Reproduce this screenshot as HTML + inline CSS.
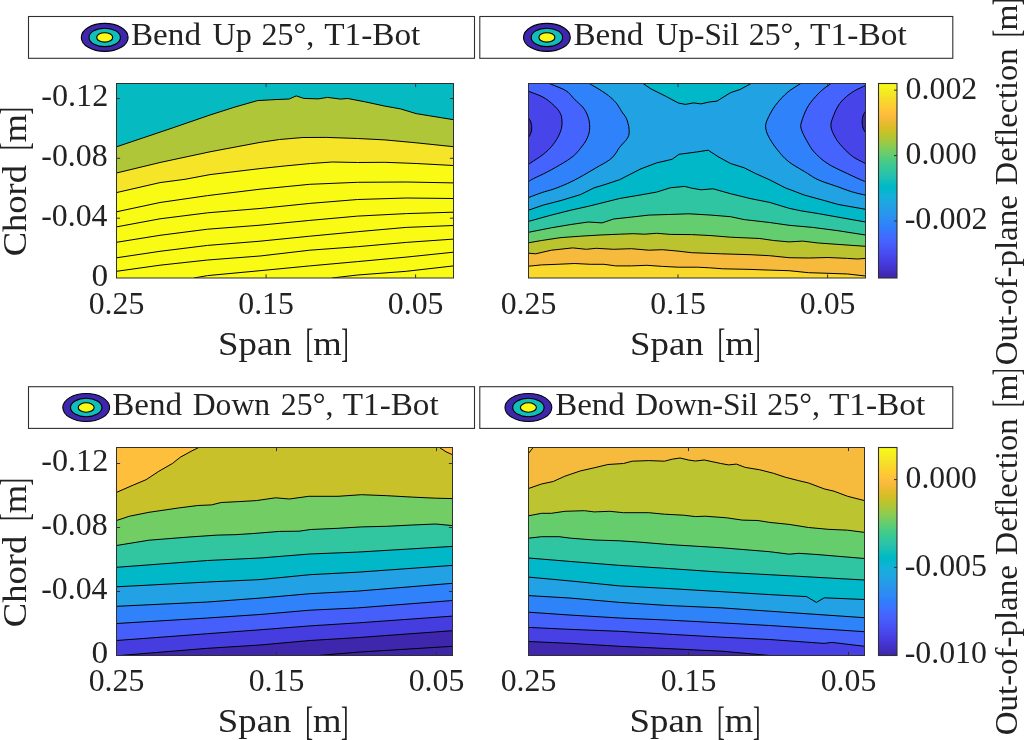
<!DOCTYPE html>
<html lang="en"><head><meta charset="utf-8"><title>Out-of-plane deflection contours</title>
<style>html,body{margin:0;padding:0;background:#fff;width:1025px;height:740px;overflow:hidden}</style>
</head><body>
<svg width="1025" height="740" viewBox="0 0 1025 740" style="display:block;position:absolute;left:0;top:0">
<defs>
<linearGradient id="pg" x1="0" y1="0" x2="0" y2="1"><stop offset="0.0000" stop-color="#f9fb15"/><stop offset="0.0159" stop-color="#f7f51b"/><stop offset="0.0317" stop-color="#f6ef20"/><stop offset="0.0476" stop-color="#f5e924"/><stop offset="0.0635" stop-color="#f5e327"/><stop offset="0.0794" stop-color="#f7dc2a"/><stop offset="0.0952" stop-color="#fad62d"/><stop offset="0.1111" stop-color="#fccf30"/><stop offset="0.1270" stop-color="#fec934"/><stop offset="0.1429" stop-color="#fec338"/><stop offset="0.1587" stop-color="#febe3c"/><stop offset="0.1746" stop-color="#f8ba3d"/><stop offset="0.1905" stop-color="#f0ba36"/><stop offset="0.2063" stop-color="#e6bb2d"/><stop offset="0.2222" stop-color="#dcbd29"/><stop offset="0.2381" stop-color="#d1bf27"/><stop offset="0.2540" stop-color="#c5c22a"/><stop offset="0.2698" stop-color="#b9c431"/><stop offset="0.2857" stop-color="#abc739"/><stop offset="0.3016" stop-color="#9dc943"/><stop offset="0.3175" stop-color="#8fcb4e"/><stop offset="0.3333" stop-color="#81cc59"/><stop offset="0.3492" stop-color="#72cd64"/><stop offset="0.3651" stop-color="#64cd6f"/><stop offset="0.3810" stop-color="#57cc7a"/><stop offset="0.3968" stop-color="#4acb84"/><stop offset="0.4127" stop-color="#3fca8e"/><stop offset="0.4286" stop-color="#37c897"/><stop offset="0.4444" stop-color="#31c69f"/><stop offset="0.4603" stop-color="#2cc4a7"/><stop offset="0.4762" stop-color="#24c1ae"/><stop offset="0.4921" stop-color="#19bfb6"/><stop offset="0.5079" stop-color="#0bbdbd"/><stop offset="0.5238" stop-color="#02bac3"/><stop offset="0.5397" stop-color="#01b8ca"/><stop offset="0.5556" stop-color="#08b5d0"/><stop offset="0.5714" stop-color="#12b1d6"/><stop offset="0.5873" stop-color="#18addb"/><stop offset="0.6032" stop-color="#1ca9df"/><stop offset="0.6190" stop-color="#20a5e3"/><stop offset="0.6349" stop-color="#23a0e5"/><stop offset="0.6508" stop-color="#259be8"/><stop offset="0.6667" stop-color="#2797eb"/><stop offset="0.6825" stop-color="#2b91ef"/><stop offset="0.6984" stop-color="#2d8cf3"/><stop offset="0.7143" stop-color="#2e87f7"/><stop offset="0.7302" stop-color="#2f81fa"/><stop offset="0.7460" stop-color="#327cfc"/><stop offset="0.7619" stop-color="#3875fe"/><stop offset="0.7778" stop-color="#3e6fff"/><stop offset="0.7937" stop-color="#4269fe"/><stop offset="0.8095" stop-color="#4563fd"/><stop offset="0.8254" stop-color="#465efb"/><stop offset="0.8413" stop-color="#4758f8"/><stop offset="0.8571" stop-color="#4852f4"/><stop offset="0.8730" stop-color="#484df0"/><stop offset="0.8889" stop-color="#4747eb"/><stop offset="0.9048" stop-color="#4741e5"/><stop offset="0.9206" stop-color="#463cde"/><stop offset="0.9365" stop-color="#4537d5"/><stop offset="0.9524" stop-color="#4332cb"/><stop offset="0.9683" stop-color="#422ec0"/><stop offset="0.9841" stop-color="#402ab4"/><stop offset="1.0000" stop-color="#3e26a8"/></linearGradient>
</defs>
<rect width="1025" height="740" fill="#fff"/>
<clipPath id="c1"><rect x="116.5" y="83.5" width="337.0" height="194.5"/></clipPath>
<g clip-path="url(#c1)">
<rect x="116.5" y="83.5" width="337.0" height="194.5" fill="#05bbc1"/>
<polygon points="116.5,146.8 170.0,128.8 210.0,115.0 235.0,107.0 257.5,100.6 275.0,99.6 289.3,99.0 296.2,95.9 303.8,98.4 318.0,98.9 327.5,97.4 340.5,99.1 347.8,98.5 365.4,101.9 384.9,106.1 400.5,108.9 416.1,113.6 453.5,119.7 455.5,119.7 455.5,280.0 114.5,280.0 114.5,146.8" fill="#aec637"/>
<polygon points="116.5,173.0 160.0,162.5 210.0,151.8 260.0,142.4 279.5,139.5 302.9,137.5 326.3,137.4 357.6,138.5 384.9,139.9 416.1,142.8 453.5,146.7 455.5,146.7 455.5,280.0 114.5,280.0 114.5,173.0" fill="#f5e427"/>
<polygon points="116.5,192.6 160.0,182.6 185.0,179.3 210.0,174.6 260.0,168.6 285.4,165.9 310.7,163.5 332.2,162.0 357.6,162.5 384.9,162.3 416.1,163.5 453.5,165.5 455.5,165.5 455.5,280.0 114.5,280.0 114.5,192.6" fill="#f9fb15"/>
<polygon points="116.5,211.8 160.0,202.5 207.6,195.6 260.0,189.2 309.8,184.3 357.6,182.3 406.3,182.0 453.5,182.9 455.5,182.9 455.5,280.0 114.5,280.0 114.5,211.8" fill="#f9fb15"/>
<polygon points="116.5,226.9 160.0,218.8 207.6,212.8 260.0,208.5 309.8,203.4 357.6,199.5 406.3,198.0 453.5,198.5 455.5,198.5 455.5,280.0 114.5,280.0 114.5,226.9" fill="#f9fb15"/>
<polygon points="116.5,242.3 160.0,235.3 207.6,229.2 260.0,225.2 309.8,220.4 357.6,216.1 406.3,213.6 453.5,212.2 455.5,212.2 455.5,280.0 114.5,280.0 114.5,242.3" fill="#f9fb15"/>
<polygon points="116.5,257.8 160.0,251.3 207.6,245.4 260.0,241.2 309.8,236.2 357.6,231.7 406.3,227.4 453.5,225.5 455.5,225.5 455.5,280.0 114.5,280.0 114.5,257.8" fill="#f9fb15"/>
<polygon points="116.5,271.3 160.0,265.2 207.6,260.0 260.0,256.0 309.8,250.2 357.6,246.7 406.3,242.4 453.5,239.1 455.5,239.1 455.5,280.0 114.5,280.0 114.5,271.3" fill="#f9fb15"/>
<polygon points="193.9,278.0 207.6,275.6 260.0,270.7 309.8,265.9 357.6,261.6 406.3,257.1 453.5,252.2 455.5,252.2 455.5,280.0 193.9,280.0" fill="#f9fb15"/>
<polygon points="332.0,278.0 357.6,275.0 406.3,271.3 453.5,265.9 455.5,265.9 455.5,280.0 332.0,280.0" fill="#f9fb15"/>
<polyline points="116.5,146.8 170.0,128.8 210.0,115.0 235.0,107.0 257.5,100.6 275.0,99.6 289.3,99.0 296.2,95.9 303.8,98.4 318.0,98.9 327.5,97.4 340.5,99.1 347.8,98.5 365.4,101.9 384.9,106.1 400.5,108.9 416.1,113.6 453.5,119.7" fill="none" stroke="#000" stroke-width="1.00" stroke-linejoin="round"/>
<polyline points="116.5,173.0 160.0,162.5 210.0,151.8 260.0,142.4 279.5,139.5 302.9,137.5 326.3,137.4 357.6,138.5 384.9,139.9 416.1,142.8 453.5,146.7" fill="none" stroke="#000" stroke-width="1.00" stroke-linejoin="round"/>
<polyline points="116.5,192.6 160.0,182.6 185.0,179.3 210.0,174.6 260.0,168.6 285.4,165.9 310.7,163.5 332.2,162.0 357.6,162.5 384.9,162.3 416.1,163.5 453.5,165.5" fill="none" stroke="#000" stroke-width="1.00" stroke-linejoin="round"/>
<polyline points="116.5,211.8 160.0,202.5 207.6,195.6 260.0,189.2 309.8,184.3 357.6,182.3 406.3,182.0 453.5,182.9" fill="none" stroke="#000" stroke-width="1.00" stroke-linejoin="round"/>
<polyline points="116.5,226.9 160.0,218.8 207.6,212.8 260.0,208.5 309.8,203.4 357.6,199.5 406.3,198.0 453.5,198.5" fill="none" stroke="#000" stroke-width="1.00" stroke-linejoin="round"/>
<polyline points="116.5,242.3 160.0,235.3 207.6,229.2 260.0,225.2 309.8,220.4 357.6,216.1 406.3,213.6 453.5,212.2" fill="none" stroke="#000" stroke-width="1.00" stroke-linejoin="round"/>
<polyline points="116.5,257.8 160.0,251.3 207.6,245.4 260.0,241.2 309.8,236.2 357.6,231.7 406.3,227.4 453.5,225.5" fill="none" stroke="#000" stroke-width="1.00" stroke-linejoin="round"/>
<polyline points="116.5,271.3 160.0,265.2 207.6,260.0 260.0,256.0 309.8,250.2 357.6,246.7 406.3,242.4 453.5,239.1" fill="none" stroke="#000" stroke-width="1.00" stroke-linejoin="round"/>
<polyline points="193.9,278.0 207.6,275.6 260.0,270.7 309.8,265.9 357.6,261.6 406.3,257.1 453.5,252.2" fill="none" stroke="#000" stroke-width="1.00" stroke-linejoin="round"/>
<polyline points="332.0,278.0 357.6,275.0 406.3,271.3 453.5,265.9" fill="none" stroke="#000" stroke-width="1.00" stroke-linejoin="round"/>
</g>
<path d="M266.1 278.0v-3.6M266.1 83.5v3.6M415.6 278.0v-3.6M415.6 83.5v3.6M116.5 98.5h3.6M453.5 98.5h-3.6M116.5 158.3h3.6M453.5 158.3h-3.6M116.5 218.2h3.6M453.5 218.2h-3.6" stroke="#303030" stroke-width="1" fill="none"/>
<rect x="116.5" y="83.5" width="337.0" height="194.5" fill="none" stroke="#303030" stroke-width="1"/>
<clipPath id="c3"><rect x="116.5" y="447.5" width="336.0" height="208.0"/></clipPath>
<g clip-path="url(#c3)">
<rect x="116.5" y="447.5" width="336.0" height="208.0" fill="#febf3c"/>
<polygon points="116.5,492.4 133.4,485.0 146.1,479.7 158.8,471.3 172.4,463.5 180.2,457.3 192.0,450.8 198.8,447.5 454.5,445.5 454.5,657.5 114.5,657.5 114.5,492.4" fill="#c9c129"/>
<polygon points="116.5,520.5 129.5,516.2 149.0,512.3 178.3,508.0 197.8,505.5 211.5,504.9 221.2,502.5 238.8,501.6 256.3,500.6 275.6,497.8 289.3,499.0 308.8,496.3 338.0,496.3 361.5,494.7 386.8,495.7 412.2,497.1 435.6,498.2 452.5,498.6 454.5,498.6 454.5,657.5 114.5,657.5 114.5,520.5" fill="#72cd64"/>
<polygon points="116.5,545.5 149.0,540.2 188.0,537.1 217.3,535.1 234.9,534.7 252.4,533.6 279.5,531.4 299.0,531.2 310.7,529.5 338.0,528.3 361.5,526.9 386.8,526.3 412.2,525.0 435.6,524.0 452.5,525.6 454.5,525.6 454.5,657.5 114.5,657.5 114.5,545.5" fill="#31c69f"/>
<polygon points="116.5,567.3 207.6,560.5 260.0,558.0 309.8,554.0 357.6,552.1 452.5,546.4 454.5,546.4 454.5,657.5 114.5,657.5 114.5,567.3" fill="#01b8c9"/>
<polygon points="116.5,586.8 207.6,582.0 260.0,579.6 309.8,574.7 357.6,572.2 452.5,565.4 454.5,565.4 454.5,657.5 114.5,657.5 114.5,586.8" fill="#22a2e4"/>
<polygon points="116.5,606.3 207.6,602.0 260.0,598.1 309.8,593.7 357.6,591.1 452.5,583.3 454.5,583.3 454.5,657.5 114.5,657.5 114.5,606.3" fill="#2f82f9"/>
<polygon points="116.5,623.5 207.6,618.0 260.0,614.5 309.8,610.2 357.6,607.9 452.5,600.5 454.5,600.5 454.5,657.5 114.5,657.5 114.5,623.5" fill="#465ffb"/>
<polygon points="116.5,640.5 207.6,633.7 260.0,629.8 309.8,625.9 357.6,622.9 452.5,616.1 454.5,616.1 454.5,657.5 114.5,657.5 114.5,640.5" fill="#463de0"/>
<polygon points="120.0,655.5 207.6,648.3 260.0,645.0 309.8,640.5 357.6,637.6 452.5,630.7 454.5,630.7 454.5,657.5 120.0,657.5" fill="#3e27ac"/>
<polygon points="318.5,655.5 357.6,652.2 452.5,646.3 454.5,646.3 454.5,657.5 318.5,657.5" fill="#3e26a8"/>
<polyline points="116.5,492.4 133.4,485.0 146.1,479.7 158.8,471.3 172.4,463.5 180.2,457.3 192.0,450.8 198.8,447.5" fill="none" stroke="#000" stroke-width="1.00" stroke-linejoin="round"/>
<polyline points="116.5,520.5 129.5,516.2 149.0,512.3 178.3,508.0 197.8,505.5 211.5,504.9 221.2,502.5 238.8,501.6 256.3,500.6 275.6,497.8 289.3,499.0 308.8,496.3 338.0,496.3 361.5,494.7 386.8,495.7 412.2,497.1 435.6,498.2 452.5,498.6" fill="none" stroke="#000" stroke-width="1.00" stroke-linejoin="round"/>
<polyline points="116.5,545.5 149.0,540.2 188.0,537.1 217.3,535.1 234.9,534.7 252.4,533.6 279.5,531.4 299.0,531.2 310.7,529.5 338.0,528.3 361.5,526.9 386.8,526.3 412.2,525.0 435.6,524.0 452.5,525.6" fill="none" stroke="#000" stroke-width="1.00" stroke-linejoin="round"/>
<polyline points="116.5,567.3 207.6,560.5 260.0,558.0 309.8,554.0 357.6,552.1 452.5,546.4" fill="none" stroke="#000" stroke-width="1.00" stroke-linejoin="round"/>
<polyline points="116.5,586.8 207.6,582.0 260.0,579.6 309.8,574.7 357.6,572.2 452.5,565.4" fill="none" stroke="#000" stroke-width="1.00" stroke-linejoin="round"/>
<polyline points="116.5,606.3 207.6,602.0 260.0,598.1 309.8,593.7 357.6,591.1 452.5,583.3" fill="none" stroke="#000" stroke-width="1.00" stroke-linejoin="round"/>
<polyline points="116.5,623.5 207.6,618.0 260.0,614.5 309.8,610.2 357.6,607.9 452.5,600.5" fill="none" stroke="#000" stroke-width="1.00" stroke-linejoin="round"/>
<polyline points="116.5,640.5 207.6,633.7 260.0,629.8 309.8,625.9 357.6,622.9 452.5,616.1" fill="none" stroke="#000" stroke-width="1.00" stroke-linejoin="round"/>
<polyline points="120.0,655.5 207.6,648.3 260.0,645.0 309.8,640.5 357.6,637.6 452.5,630.7" fill="none" stroke="#000" stroke-width="1.00" stroke-linejoin="round"/>
<polyline points="318.5,655.5 357.6,652.2 452.5,646.3" fill="none" stroke="#000" stroke-width="1.00" stroke-linejoin="round"/>
<polygon points="439.5,447.5 446.0,451.8 452.5,454.7 454.0,446.0" fill="#febf3c"/>
<polyline points="439.5,447.5 446.0,451.8 452.5,454.7" fill="none" stroke="#000" stroke-width="1.00"/>
</g>
<path d="M276.5 655.5v-3.6M276.5 447.5v3.6M436.5 655.5v-3.6M436.5 447.5v3.6M116.5 463.5h3.6M452.5 463.5h-3.6M116.5 527.5h3.6M452.5 527.5h-3.6M116.5 591.5h3.6M452.5 591.5h-3.6" stroke="#303030" stroke-width="1" fill="none"/>
<rect x="116.5" y="447.5" width="336.0" height="208.0" fill="none" stroke="#303030" stroke-width="1"/>
<clipPath id="c4"><rect x="528.5" y="447.5" width="336.0" height="208.0"/></clipPath>
<g clip-path="url(#c4)">
<rect x="528.5" y="447.5" width="336.0" height="208.0" fill="#f6ba3c"/>
<polygon points="528.5,488.5 541.5,484.0 553.2,481.5 564.9,476.2 580.5,470.9 594.2,467.8 607.9,464.5 623.5,463.5 632.2,461.2 648.8,460.6 664.4,461.2 672.2,459.2 680.0,458.0 688.8,460.1 695.5,461.0 704.3,460.0 720.8,463.5 728.6,464.9 736.4,464.1 745.2,467.4 759.8,469.8 773.5,473.3 785.2,477.2 798.8,480.7 808.6,483.0 824.2,488.9 834.0,491.2 847.6,496.3 864.5,500.6 866.5,500.6 866.5,657.5 526.5,657.5 526.5,488.5" fill="#bcc42f"/>
<polygon points="528.5,515.8 541.5,513.3 551.3,513.3 564.9,511.3 584.4,510.7 594.2,511.9 609.8,511.3 623.5,512.7 648.8,512.7 664.4,514.2 683.7,515.2 695.4,516.6 705.2,516.2 726.6,517.8 742.2,520.1 757.9,520.5 769.6,522.4 789.1,524.4 808.6,527.5 828.1,529.3 847.6,530.2 864.5,532.4 866.5,532.4 866.5,657.5 526.5,657.5 526.5,515.8" fill="#66cd6d"/>
<polygon points="528.5,538.2 541.5,536.7 559.1,536.7 570.8,538.2 594.2,540.0 619.6,540.8 639.1,542.1 668.3,544.5 721.8,547.8 769.6,551.7 789.1,554.2 798.8,553.3 818.0,554.6 864.5,558.5 866.5,558.5 866.5,657.5 526.5,657.5 526.5,538.2" fill="#2fc5a2"/>
<polygon points="528.5,558.0 570.8,561.5 619.6,565.4 668.3,568.5 721.8,572.2 769.6,574.7 864.5,580.0 866.5,580.0 866.5,657.5 526.5,657.5 526.5,558.0" fill="#01b8ca"/>
<polygon points="528.5,577.1 570.8,581.0 619.6,585.9 668.3,588.5 721.8,591.7 769.6,594.6 806.6,596.6 816.4,602.4 824.2,597.8 864.5,599.5 866.5,599.5 866.5,657.5 526.5,657.5 526.5,577.1" fill="#22a2e4"/>
<polygon points="528.5,595.6 570.8,598.1 619.6,602.4 668.3,605.5 721.8,607.9 769.6,611.2 864.5,617.7 866.5,617.7 866.5,657.5 526.5,657.5 526.5,595.6" fill="#2e83f9"/>
<polygon points="528.5,612.2 570.8,615.1 619.6,618.0 668.3,620.1 721.8,622.9 769.6,625.5 864.5,631.7 866.5,631.7 866.5,657.5 526.5,657.5 526.5,612.2" fill="#4561fc"/>
<polygon points="528.5,627.4 570.8,629.4 619.6,631.3 668.3,634.2 721.8,637.2 769.6,639.5 824.2,643.4 832.0,642.4 864.5,646.3 866.5,646.3 866.5,657.5 526.5,657.5 526.5,627.4" fill="#4740e4"/>
<polygon points="528.5,641.5 570.8,643.4 619.6,646.3 668.3,648.6 721.8,651.2 769.6,655.5 526.5,657.5 526.5,641.5" fill="#3f28ad"/>
<polyline points="528.5,488.5 541.5,484.0 553.2,481.5 564.9,476.2 580.5,470.9 594.2,467.8 607.9,464.5 623.5,463.5 632.2,461.2 648.8,460.6 664.4,461.2 672.2,459.2 680.0,458.0 688.8,460.1 695.5,461.0 704.3,460.0 720.8,463.5 728.6,464.9 736.4,464.1 745.2,467.4 759.8,469.8 773.5,473.3 785.2,477.2 798.8,480.7 808.6,483.0 824.2,488.9 834.0,491.2 847.6,496.3 864.5,500.6" fill="none" stroke="#000" stroke-width="1.00" stroke-linejoin="round"/>
<polyline points="528.5,515.8 541.5,513.3 551.3,513.3 564.9,511.3 584.4,510.7 594.2,511.9 609.8,511.3 623.5,512.7 648.8,512.7 664.4,514.2 683.7,515.2 695.4,516.6 705.2,516.2 726.6,517.8 742.2,520.1 757.9,520.5 769.6,522.4 789.1,524.4 808.6,527.5 828.1,529.3 847.6,530.2 864.5,532.4" fill="none" stroke="#000" stroke-width="1.00" stroke-linejoin="round"/>
<polyline points="528.5,538.2 541.5,536.7 559.1,536.7 570.8,538.2 594.2,540.0 619.6,540.8 639.1,542.1 668.3,544.5 721.8,547.8 769.6,551.7 789.1,554.2 798.8,553.3 818.0,554.6 864.5,558.5" fill="none" stroke="#000" stroke-width="1.00" stroke-linejoin="round"/>
<polyline points="528.5,558.0 570.8,561.5 619.6,565.4 668.3,568.5 721.8,572.2 769.6,574.7 864.5,580.0" fill="none" stroke="#000" stroke-width="1.00" stroke-linejoin="round"/>
<polyline points="528.5,577.1 570.8,581.0 619.6,585.9 668.3,588.5 721.8,591.7 769.6,594.6 806.6,596.6 816.4,602.4 824.2,597.8 864.5,599.5" fill="none" stroke="#000" stroke-width="1.00" stroke-linejoin="round"/>
<polyline points="528.5,595.6 570.8,598.1 619.6,602.4 668.3,605.5 721.8,607.9 769.6,611.2 864.5,617.7" fill="none" stroke="#000" stroke-width="1.00" stroke-linejoin="round"/>
<polyline points="528.5,612.2 570.8,615.1 619.6,618.0 668.3,620.1 721.8,622.9 769.6,625.5 864.5,631.7" fill="none" stroke="#000" stroke-width="1.00" stroke-linejoin="round"/>
<polyline points="528.5,627.4 570.8,629.4 619.6,631.3 668.3,634.2 721.8,637.2 769.6,639.5 824.2,643.4 832.0,642.4 864.5,646.3" fill="none" stroke="#000" stroke-width="1.00" stroke-linejoin="round"/>
<polyline points="528.5,641.5 570.8,643.4 619.6,646.3 668.3,648.6 721.8,651.2 769.6,655.5" fill="none" stroke="#000" stroke-width="1.00" stroke-linejoin="round"/>
<polygon points="528.5,453.5 533.1,447.5 527.0,446.0" fill="#f9d82c"/>
<polyline points="528.5,453.5 533.1,447.5" fill="none" stroke="#000" stroke-width="1.00"/>
</g>
<path d="M688.5 655.5v-3.6M688.5 447.5v3.6M848.5 655.5v-3.6M848.5 447.5v3.6" stroke="#303030" stroke-width="1" fill="none"/>
<rect x="528.5" y="447.5" width="336.0" height="208.0" fill="none" stroke="#303030" stroke-width="1"/>
<clipPath id="c2"><rect x="528.5" y="83.5" width="337.0" height="194.5"/></clipPath>
<g clip-path="url(#c2)">
<rect x="528.5" y="83.5" width="337.0" height="194.5" fill="#21a3e3"/>
<polygon points="643.0,83.5 650.8,88.8 666.4,96.6 678.4,103.0 685.3,104.4 693.6,102.9 700.9,103.9 709.2,102.0 717.0,101.1 730.5,92.7 740.3,89.4 751.0,83.5 751.0,81.5 643.0,81.5" fill="#01b8c9"/>
<polygon points="589.3,83.5 591.7,84.9 595.1,86.9 599.0,89.2 602.7,91.6 605.9,93.7 608.4,95.5 610.5,97.3 612.4,99.0 614.1,100.7 615.7,102.4 617.1,104.1 618.3,105.9 619.4,107.6 620.4,109.4 621.5,111.2 622.7,113.0 624.1,114.8 625.4,116.7 626.5,118.7 627.4,121.0 628.1,123.7 628.8,126.6 629.1,129.7 629.2,132.8 628.7,135.6 627.5,138.1 625.7,140.5 623.6,142.8 621.5,145.1 619.6,147.3 618.1,149.5 616.8,151.7 615.4,153.8 613.8,155.9 611.8,158.0 609.3,160.0 606.4,161.9 603.2,163.8 599.7,165.7 596.1,167.8 592.1,170.2 587.8,172.7 583.3,175.3 578.8,177.8 574.7,180.0 570.9,181.9 567.3,183.6 563.8,185.1 560.4,186.5 557.1,187.8 553.8,189.0 550.6,190.0 547.5,190.9 544.4,191.8 541.5,192.7 538.5,193.8 535.5,194.9 532.6,196.0 530.2,196.9 528.5,197.6 526.5,197.6 526.5,81.5 589.3,81.5" fill="#2f82f9"/>
<polygon points="549.3,83.5 551.7,84.5 555.1,85.8 559.0,87.4 562.8,89.0 565.9,90.7 568.1,92.3 569.9,94.1 571.5,95.8 573.0,97.7 574.7,99.5 576.7,101.3 578.7,103.2 580.8,105.1 582.8,107.1 584.4,109.3 585.8,111.6 587.0,114.1 588.0,116.7 588.8,119.4 589.3,122.0 589.6,124.7 589.7,127.4 589.5,130.2 589.0,132.9 588.3,135.6 587.2,138.2 585.8,140.9 584.1,143.5 582.3,146.0 580.5,148.3 578.8,150.4 577.2,152.3 575.5,154.1 573.4,156.0 570.8,158.0 567.5,160.3 563.6,162.7 559.4,165.2 555.2,167.6 551.3,169.8 547.5,171.8 543.5,173.8 539.8,175.6 536.4,177.2 533.7,178.5 531.8,179.5 530.5,180.3 529.6,180.9 529.0,181.3 528.5,181.6 526.5,181.6 526.5,81.5 549.3,81.5" fill="#4563fd"/>
<polygon points="526.5,91.3 528.5,91.3 530.8,92.2 534.2,93.4 538.1,94.9 542.0,96.6 545.4,98.5 548.5,100.7 551.6,103.3 554.6,106.0 557.1,108.7 559.1,111.2 560.4,113.5 561.3,115.7 561.7,117.8 561.9,119.9 562.0,122.0 562.0,124.1 561.8,126.2 561.4,128.4 560.8,130.5 560.0,132.7 559.0,135.0 557.8,137.4 556.4,139.8 554.8,142.2 553.2,144.4 551.5,146.5 549.8,148.4 547.9,150.3 545.8,152.2 543.5,154.1 540.6,156.3 537.2,158.6 533.7,160.9 530.6,162.9 528.5,164.3 526.5,164.3" fill="#4745e9"/>
<polygon points="526.5,118.0 528.5,118.0 528.8,118.5 529.3,119.2 529.9,120.1 530.4,121.0 530.8,122.0 531.1,123.1 531.4,124.2 531.6,125.4 531.7,126.6 531.8,127.8 531.7,128.9 531.6,130.0 531.4,131.0 531.1,132.0 530.8,133.0 530.4,134.0 529.9,135.1 529.3,136.1 528.8,137.0 528.5,137.6 526.5,137.6" fill="#402ab4"/>
<polygon points="800.8,83.5 798.9,84.7 796.2,86.3 793.1,88.3 789.9,90.5 787.1,92.7 784.6,95.0 782.1,97.5 779.7,100.1 777.5,102.7 775.4,105.4 773.5,108.1 771.7,111.0 770.1,113.9 768.7,116.6 767.6,119.0 766.7,121.0 766.1,122.8 765.8,124.4 765.6,126.0 765.7,127.8 766.0,129.8 766.6,131.8 767.3,133.9 768.4,136.1 769.6,138.5 771.2,141.1 773.1,144.0 775.1,146.9 777.3,149.7 779.3,152.2 781.2,154.4 782.9,156.4 784.8,158.3 786.8,160.1 789.1,162.0 791.9,164.0 795.0,166.0 798.3,167.9 801.6,169.9 804.7,171.7 807.5,173.4 810.0,175.1 812.5,176.7 815.2,178.3 818.3,179.8 821.9,181.3 826.0,182.8 830.2,184.2 834.3,185.6 837.9,186.8 841.0,187.9 843.8,189.0 846.3,189.9 848.9,190.8 851.5,191.7 854.5,192.5 857.7,193.4 860.9,194.1 863.6,194.7 865.5,195.2 867.5,195.2 867.5,81.5 800.8,81.5" fill="#2f82f9"/>
<polygon points="831.0,83.5 829.6,84.5 827.5,85.9 825.2,87.6 822.7,89.6 820.3,91.7 817.9,94.1 815.5,96.7 813.0,99.5 810.6,102.5 808.6,105.4 806.8,108.5 805.2,111.9 803.8,115.2 802.7,118.3 801.8,121.0 801.2,123.0 800.8,124.5 800.7,125.8 800.8,127.1 801.2,128.8 801.9,130.9 802.8,133.2 804.0,135.6 805.3,138.1 806.6,140.5 807.9,142.8 809.3,145.2 810.7,147.5 812.4,149.9 814.4,152.2 816.7,154.6 819.2,157.0 821.9,159.4 824.9,161.7 828.1,163.9 831.7,166.0 835.8,168.1 839.9,170.1 844.0,172.0 847.6,173.7 850.9,175.3 854.0,176.7 856.8,178.0 859.3,179.1 861.3,180.0 862.8,180.6 863.9,181.1 864.6,181.3 865.1,181.5 865.5,181.6 867.5,181.6 867.5,81.5 831.0,81.5" fill="#4563fd"/>
<polygon points="867.5,85.5 865.5,85.5 863.6,86.4 860.8,87.7 857.6,89.2 854.4,90.9 851.5,92.7 848.9,94.6 846.4,96.6 844.0,98.7 841.8,101.0 839.8,103.4 838.0,106.0 836.5,108.9 835.1,111.8 834.0,114.6 833.0,117.1 832.2,119.3 831.5,121.2 831.1,123.0 830.9,124.8 831.0,126.8 831.5,129.0 832.3,131.4 833.4,133.9 834.6,136.2 835.9,138.5 837.2,140.6 838.7,142.6 840.3,144.5 842.0,146.4 843.7,148.3 845.5,150.2 847.4,152.0 849.3,153.8 851.4,155.5 853.5,157.1 856.0,158.6 858.7,160.1 861.5,161.5 863.8,162.7 865.5,163.5 867.5,163.5" fill="#4745e9"/>
<polygon points="867.5,111.2 865.5,111.2 865.1,111.8 864.6,112.7 864.0,113.8 863.4,114.9 863.0,116.0 862.7,117.1 862.5,118.3 862.3,119.5 862.2,120.8 862.2,122.0 862.2,123.2 862.3,124.5 862.5,125.7 862.7,126.9 863.0,128.0 863.4,129.1 864.0,130.2 864.6,131.2 865.1,132.1 865.5,132.7 867.5,132.7" fill="#402ab4"/>
<polygon points="528.5,210.2 543.5,205.0 561.0,200.5 580.5,194.6 594.2,187.8 604.0,184.9 619.6,179.7 641.0,168.8 656.6,162.9 672.1,159.3 679.0,154.3 696.5,152.0 708.2,150.2 718.8,157.1 730.5,163.5 744.2,167.8 755.9,173.7 769.6,179.8 785.2,187.8 804.7,195.2 824.2,200.5 837.9,204.4 865.5,209.3 867.5,209.3 867.5,280.0 526.5,280.0 526.5,210.2" fill="#01b8c9"/>
<polygon points="528.5,221.4 551.3,215.1 570.8,210.2 588.3,206.3 600.0,203.4 619.6,198.5 639.1,195.2 656.6,192.1 670.3,187.8 684.5,186.4 691.8,188.2 701.0,189.8 713.0,188.8 730.5,193.7 750.0,198.5 769.6,202.4 789.1,208.3 800.8,210.8 818.3,213.6 837.9,217.1 865.5,222.0 867.5,222.0 867.5,280.0 526.5,280.0 526.5,221.4" fill="#2fc5a3"/>
<polygon points="528.5,232.3 551.3,227.8 570.8,224.5 588.3,222.0 602.0,222.9 613.7,219.0 631.3,217.1 648.8,215.1 668.3,214.5 689.0,213.8 711.0,215.1 730.5,216.7 744.2,219.6 769.6,222.5 789.1,225.3 812.5,227.4 837.9,230.7 865.5,235.0 867.5,235.0 867.5,280.0 526.5,280.0 526.5,232.3" fill="#64cd6f"/>
<polygon points="528.5,242.8 541.5,240.5 561.0,237.6 580.5,236.2 600.0,235.0 619.6,234.2 633.2,233.7 644.9,234.2 656.6,233.3 670.3,234.4 691.6,234.6 711.0,235.6 730.5,237.2 759.8,238.5 773.5,240.5 789.1,241.9 802.7,241.1 818.3,243.0 837.9,244.4 865.5,246.3 867.5,246.3 867.5,280.0 526.5,280.0 526.5,242.8" fill="#bbc42f"/>
<polygon points="528.5,253.2 535.7,253.8 551.3,250.2 572.7,247.9 586.4,249.3 596.1,248.3 613.7,249.3 631.3,248.7 648.8,250.2 662.5,249.7 678.0,251.1 691.6,252.7 720.8,253.8 750.0,254.7 769.6,255.7 789.1,257.7 808.6,258.0 828.1,257.5 847.6,258.4 857.4,259.0 865.5,258.4 867.5,258.4 867.5,280.0 526.5,280.0 526.5,253.2" fill="#f6ba3c"/>
<polygon points="528.5,266.2 541.5,264.9 557.1,264.3 574.7,263.5 590.3,264.3 604.0,264.3 615.7,265.9 631.3,265.9 646.9,265.3 662.5,266.4 678.1,267.2 697.6,267.2 709.3,267.8 722.7,268.8 750.0,269.4 769.6,270.1 789.1,270.7 808.6,272.7 828.1,273.3 847.6,274.0 865.5,276.0 867.5,276.0 867.5,280.0 526.5,280.0 526.5,266.2" fill="#f9d82c"/>
<polyline points="528.5,118.0 528.8,118.5 529.3,119.2 529.9,120.1 530.4,121.0 530.8,122.0 531.1,123.1 531.4,124.2 531.6,125.4 531.7,126.6 531.8,127.8 531.7,128.9 531.6,130.0 531.4,131.0 531.1,132.0 530.8,133.0 530.4,134.0 529.9,135.1 529.3,136.1 528.8,137.0 528.5,137.6" fill="none" stroke="#000" stroke-width="1.00" stroke-linejoin="round"/>
<polyline points="528.5,91.3 530.8,92.2 534.2,93.4 538.1,94.9 542.0,96.6 545.4,98.5 548.5,100.7 551.6,103.3 554.6,106.0 557.1,108.7 559.1,111.2 560.4,113.5 561.3,115.7 561.7,117.8 561.9,119.9 562.0,122.0 562.0,124.1 561.8,126.2 561.4,128.4 560.8,130.5 560.0,132.7 559.0,135.0 557.8,137.4 556.4,139.8 554.8,142.2 553.2,144.4 551.5,146.5 549.8,148.4 547.9,150.3 545.8,152.2 543.5,154.1 540.6,156.3 537.2,158.6 533.7,160.9 530.6,162.9 528.5,164.3" fill="none" stroke="#000" stroke-width="1.00" stroke-linejoin="round"/>
<polyline points="549.3,83.5 551.7,84.5 555.1,85.8 559.0,87.4 562.8,89.0 565.9,90.7 568.1,92.3 569.9,94.1 571.5,95.8 573.0,97.7 574.7,99.5 576.7,101.3 578.7,103.2 580.8,105.1 582.8,107.1 584.4,109.3 585.8,111.6 587.0,114.1 588.0,116.7 588.8,119.4 589.3,122.0 589.6,124.7 589.7,127.4 589.5,130.2 589.0,132.9 588.3,135.6 587.2,138.2 585.8,140.9 584.1,143.5 582.3,146.0 580.5,148.3 578.8,150.4 577.2,152.3 575.5,154.1 573.4,156.0 570.8,158.0 567.5,160.3 563.6,162.7 559.4,165.2 555.2,167.6 551.3,169.8 547.5,171.8 543.5,173.8 539.8,175.6 536.4,177.2 533.7,178.5 531.8,179.5 530.5,180.3 529.6,180.9 529.0,181.3 528.5,181.6" fill="none" stroke="#000" stroke-width="1.00" stroke-linejoin="round"/>
<polyline points="589.3,83.5 591.7,84.9 595.1,86.9 599.0,89.2 602.7,91.6 605.9,93.7 608.4,95.5 610.5,97.3 612.4,99.0 614.1,100.7 615.7,102.4 617.1,104.1 618.3,105.9 619.4,107.6 620.4,109.4 621.5,111.2 622.7,113.0 624.1,114.8 625.4,116.7 626.5,118.7 627.4,121.0 628.1,123.7 628.8,126.6 629.1,129.7 629.2,132.8 628.7,135.6 627.5,138.1 625.7,140.5 623.6,142.8 621.5,145.1 619.6,147.3 618.1,149.5 616.8,151.7 615.4,153.8 613.8,155.9 611.8,158.0 609.3,160.0 606.4,161.9 603.2,163.8 599.7,165.7 596.1,167.8 592.1,170.2 587.8,172.7 583.3,175.3 578.8,177.8 574.7,180.0 570.9,181.9 567.3,183.6 563.8,185.1 560.4,186.5 557.1,187.8 553.8,189.0 550.6,190.0 547.5,190.9 544.4,191.8 541.5,192.7 538.5,193.8 535.5,194.9 532.6,196.0 530.2,196.9 528.5,197.6" fill="none" stroke="#000" stroke-width="1.00" stroke-linejoin="round"/>
<polyline points="643.0,83.5 650.8,88.8 666.4,96.6 678.4,103.0 685.3,104.4 693.6,102.9 700.9,103.9 709.2,102.0 717.0,101.1 730.5,92.7 740.3,89.4 751.0,83.5" fill="none" stroke="#000" stroke-width="1.00" stroke-linejoin="round"/>
<polyline points="528.5,210.2 543.5,205.0 561.0,200.5 580.5,194.6 594.2,187.8 604.0,184.9 619.6,179.7 641.0,168.8 656.6,162.9 672.1,159.3 679.0,154.3 696.5,152.0 708.2,150.2 718.8,157.1 730.5,163.5 744.2,167.8 755.9,173.7 769.6,179.8 785.2,187.8 804.7,195.2 824.2,200.5 837.9,204.4 865.5,209.3" fill="none" stroke="#000" stroke-width="1.00" stroke-linejoin="round"/>
<polyline points="800.8,83.5 798.9,84.7 796.2,86.3 793.1,88.3 789.9,90.5 787.1,92.7 784.6,95.0 782.1,97.5 779.7,100.1 777.5,102.7 775.4,105.4 773.5,108.1 771.7,111.0 770.1,113.9 768.7,116.6 767.6,119.0 766.7,121.0 766.1,122.8 765.8,124.4 765.6,126.0 765.7,127.8 766.0,129.8 766.6,131.8 767.3,133.9 768.4,136.1 769.6,138.5 771.2,141.1 773.1,144.0 775.1,146.9 777.3,149.7 779.3,152.2 781.2,154.4 782.9,156.4 784.8,158.3 786.8,160.1 789.1,162.0 791.9,164.0 795.0,166.0 798.3,167.9 801.6,169.9 804.7,171.7 807.5,173.4 810.0,175.1 812.5,176.7 815.2,178.3 818.3,179.8 821.9,181.3 826.0,182.8 830.2,184.2 834.3,185.6 837.9,186.8 841.0,187.9 843.8,189.0 846.3,189.9 848.9,190.8 851.5,191.7 854.5,192.5 857.7,193.4 860.9,194.1 863.6,194.7 865.5,195.2" fill="none" stroke="#000" stroke-width="1.00" stroke-linejoin="round"/>
<polyline points="831.0,83.5 829.6,84.5 827.5,85.9 825.2,87.6 822.7,89.6 820.3,91.7 817.9,94.1 815.5,96.7 813.0,99.5 810.6,102.5 808.6,105.4 806.8,108.5 805.2,111.9 803.8,115.2 802.7,118.3 801.8,121.0 801.2,123.0 800.8,124.5 800.7,125.8 800.8,127.1 801.2,128.8 801.9,130.9 802.8,133.2 804.0,135.6 805.3,138.1 806.6,140.5 807.9,142.8 809.3,145.2 810.7,147.5 812.4,149.9 814.4,152.2 816.7,154.6 819.2,157.0 821.9,159.4 824.9,161.7 828.1,163.9 831.7,166.0 835.8,168.1 839.9,170.1 844.0,172.0 847.6,173.7 850.9,175.3 854.0,176.7 856.8,178.0 859.3,179.1 861.3,180.0 862.8,180.6 863.9,181.1 864.6,181.3 865.1,181.5 865.5,181.6" fill="none" stroke="#000" stroke-width="1.00" stroke-linejoin="round"/>
<polyline points="865.5,85.5 863.6,86.4 860.8,87.7 857.6,89.2 854.4,90.9 851.5,92.7 848.9,94.6 846.4,96.6 844.0,98.7 841.8,101.0 839.8,103.4 838.0,106.0 836.5,108.9 835.1,111.8 834.0,114.6 833.0,117.1 832.2,119.3 831.5,121.2 831.1,123.0 830.9,124.8 831.0,126.8 831.5,129.0 832.3,131.4 833.4,133.9 834.6,136.2 835.9,138.5 837.2,140.6 838.7,142.6 840.3,144.5 842.0,146.4 843.7,148.3 845.5,150.2 847.4,152.0 849.3,153.8 851.4,155.5 853.5,157.1 856.0,158.6 858.7,160.1 861.5,161.5 863.8,162.7 865.5,163.5" fill="none" stroke="#000" stroke-width="1.00" stroke-linejoin="round"/>
<polyline points="865.5,111.2 865.1,111.8 864.6,112.7 864.0,113.8 863.4,114.9 863.0,116.0 862.7,117.1 862.5,118.3 862.3,119.5 862.2,120.8 862.2,122.0 862.2,123.2 862.3,124.5 862.5,125.7 862.7,126.9 863.0,128.0 863.4,129.1 864.0,130.2 864.6,131.2 865.1,132.1 865.5,132.7" fill="none" stroke="#000" stroke-width="1.00" stroke-linejoin="round"/>
<polyline points="528.5,221.4 551.3,215.1 570.8,210.2 588.3,206.3 600.0,203.4 619.6,198.5 639.1,195.2 656.6,192.1 670.3,187.8 684.5,186.4 691.8,188.2 701.0,189.8 713.0,188.8 730.5,193.7 750.0,198.5 769.6,202.4 789.1,208.3 800.8,210.8 818.3,213.6 837.9,217.1 865.5,222.0" fill="none" stroke="#000" stroke-width="1.00" stroke-linejoin="round"/>
<polyline points="528.5,232.3 551.3,227.8 570.8,224.5 588.3,222.0 602.0,222.9 613.7,219.0 631.3,217.1 648.8,215.1 668.3,214.5 689.0,213.8 711.0,215.1 730.5,216.7 744.2,219.6 769.6,222.5 789.1,225.3 812.5,227.4 837.9,230.7 865.5,235.0" fill="none" stroke="#000" stroke-width="1.00" stroke-linejoin="round"/>
<polyline points="528.5,242.8 541.5,240.5 561.0,237.6 580.5,236.2 600.0,235.0 619.6,234.2 633.2,233.7 644.9,234.2 656.6,233.3 670.3,234.4 691.6,234.6 711.0,235.6 730.5,237.2 759.8,238.5 773.5,240.5 789.1,241.9 802.7,241.1 818.3,243.0 837.9,244.4 865.5,246.3" fill="none" stroke="#000" stroke-width="1.00" stroke-linejoin="round"/>
<polyline points="528.5,253.2 535.7,253.8 551.3,250.2 572.7,247.9 586.4,249.3 596.1,248.3 613.7,249.3 631.3,248.7 648.8,250.2 662.5,249.7 678.0,251.1 691.6,252.7 720.8,253.8 750.0,254.7 769.6,255.7 789.1,257.7 808.6,258.0 828.1,257.5 847.6,258.4 857.4,259.0 865.5,258.4" fill="none" stroke="#000" stroke-width="1.00" stroke-linejoin="round"/>
<polyline points="528.5,266.2 541.5,264.9 557.1,264.3 574.7,263.5 590.3,264.3 604.0,264.3 615.7,265.9 631.3,265.9 646.9,265.3 662.5,266.4 678.1,267.2 697.6,267.2 709.3,267.8 722.7,268.8 750.0,269.4 769.6,270.1 789.1,270.7 808.6,272.7 828.1,273.3 847.6,274.0 865.5,276.0" fill="none" stroke="#000" stroke-width="1.00" stroke-linejoin="round"/>
</g>
<path d="M678.0 278.0v-3.6M678.0 83.5v3.6M827.6 278.0v-3.6M827.6 83.5v3.6" stroke="#303030" stroke-width="1" fill="none"/>
<rect x="528.5" y="83.5" width="337.0" height="194.5" fill="none" stroke="#303030" stroke-width="1"/>
<rect x="878.5" y="83.5" width="18.5" height="194.5" fill="url(#pg)"/>
<path d="M897.0 90.2h-3.0M897.0 155.6h-3.0M897.0 221.0h-3.0" stroke="#303030" stroke-width="1" fill="none"/>
<rect x="878.5" y="83.5" width="18.5" height="194.5" fill="none" stroke="#303030" stroke-width="1.1"/>
<rect x="878.5" y="447.5" width="18.5" height="208.0" fill="url(#pg)"/>
<path d="M897.0 479.6h-3.0M897.0 567.4h-3.0M897.0 655.0h-3.0" stroke="#303030" stroke-width="1" fill="none"/>
<rect x="878.5" y="447.5" width="18.5" height="208.0" fill="none" stroke="#303030" stroke-width="1.1"/>
<rect x="28.5" y="16.5" width="446.0" height="41.8" fill="#fff" stroke="#303030" stroke-width="1.1"/>
<g transform="translate(104.7,37.4)"><ellipse cx="0" cy="0" rx="23.4" ry="14" fill="#3e27ac" stroke="#000" stroke-width="1.1"/><ellipse cx="0" cy="0" rx="15.7" ry="9.2" fill="#12beb9" stroke="#000" stroke-width="1.1"/><ellipse cx="0" cy="0" rx="8" ry="4.7" fill="#f9fb15" stroke="#000" stroke-width="1.1"/></g>
<rect x="479.8" y="16.5" width="473.0" height="41.8" fill="#fff" stroke="#303030" stroke-width="1.1"/>
<g transform="translate(546.9,37.4)"><ellipse cx="0" cy="0" rx="23.4" ry="14" fill="#3e27ac" stroke="#000" stroke-width="1.1"/><ellipse cx="0" cy="0" rx="15.7" ry="9.2" fill="#12beb9" stroke="#000" stroke-width="1.1"/><ellipse cx="0" cy="0" rx="8" ry="4.7" fill="#f9fb15" stroke="#000" stroke-width="1.1"/></g>
<rect x="28.5" y="386.7" width="446.0" height="41.7" fill="#fff" stroke="#303030" stroke-width="1.1"/>
<g transform="translate(86.2,407.5)"><ellipse cx="0" cy="0" rx="23.4" ry="14" fill="#3e27ac" stroke="#000" stroke-width="1.1"/><ellipse cx="0" cy="0" rx="15.7" ry="9.2" fill="#12beb9" stroke="#000" stroke-width="1.1"/><ellipse cx="0" cy="0" rx="8" ry="4.7" fill="#f9fb15" stroke="#000" stroke-width="1.1"/></g>
<rect x="479.8" y="386.7" width="473.0" height="41.7" fill="#fff" stroke="#303030" stroke-width="1.1"/>
<g transform="translate(528.4,407.5)"><ellipse cx="0" cy="0" rx="23.4" ry="14" fill="#3e27ac" stroke="#000" stroke-width="1.1"/><ellipse cx="0" cy="0" rx="15.7" ry="9.2" fill="#12beb9" stroke="#000" stroke-width="1.1"/><ellipse cx="0" cy="0" rx="8" ry="4.7" fill="#f9fb15" stroke="#000" stroke-width="1.1"/></g>
<g font-family="'Liberation Serif', 'DejaVu Serif', serif" fill="#222">
<text x="131.01" y="44.80" font-size="31.0" textLength="69.95" lengthAdjust="spacingAndGlyphs">Bend</text>
<text x="212.56" y="44.80" font-size="31.0" textLength="39.34" lengthAdjust="spacingAndGlyphs">Up</text>
<text x="261.46" y="44.80" font-size="31.0" textLength="52.71" lengthAdjust="spacingAndGlyphs">25°,</text>
<text x="324.23" y="44.80" font-size="31.0" textLength="96.09" lengthAdjust="spacingAndGlyphs">T1-Bot</text>
<text x="573.41" y="44.80" font-size="31.0" textLength="69.95" lengthAdjust="spacingAndGlyphs">Bend</text>
<text x="655.88" y="44.80" font-size="31.0" textLength="83.21" lengthAdjust="spacingAndGlyphs">Up-Sil</text>
<text x="748.66" y="44.80" font-size="31.0" textLength="52.71" lengthAdjust="spacingAndGlyphs">25°,</text>
<text x="810.13" y="44.80" font-size="31.0" textLength="96.59" lengthAdjust="spacingAndGlyphs">T1-Bot</text>
<text x="112.21" y="415.10" font-size="31.0" textLength="69.85" lengthAdjust="spacingAndGlyphs">Bend</text>
<text x="192.75" y="415.10" font-size="31.0" textLength="77.30" lengthAdjust="spacingAndGlyphs">Down</text>
<text x="280.87" y="415.10" font-size="31.0" textLength="52.50" lengthAdjust="spacingAndGlyphs">25°,</text>
<text x="342.74" y="415.10" font-size="31.0" textLength="95.99" lengthAdjust="spacingAndGlyphs">T1-Bot</text>
<text x="555.21" y="415.10" font-size="31.0" textLength="69.65" lengthAdjust="spacingAndGlyphs">Bend</text>
<text x="635.35" y="415.10" font-size="31.0" textLength="122.65" lengthAdjust="spacingAndGlyphs">Down-Sil</text>
<text x="767.26" y="415.10" font-size="31.0" textLength="52.71" lengthAdjust="spacingAndGlyphs">25°,</text>
<text x="828.93" y="415.10" font-size="31.0" textLength="96.39" lengthAdjust="spacingAndGlyphs">T1-Bot</text>
<text x="41.27" y="106.00" font-size="31.0" textLength="66.99" lengthAdjust="spacingAndGlyphs">-0.12</text>
<text x="41.29" y="165.80" font-size="31.0" textLength="66.33" lengthAdjust="spacingAndGlyphs">-0.08</text>
<text x="41.29" y="225.70" font-size="31.0" textLength="66.19" lengthAdjust="spacingAndGlyphs">-0.04</text>
<text x="91.57" y="285.50" font-size="31.0" textLength="16.67" lengthAdjust="spacingAndGlyphs">0</text>
<text x="41.27" y="471.00" font-size="31.0" textLength="66.99" lengthAdjust="spacingAndGlyphs">-0.12</text>
<text x="41.29" y="535.00" font-size="31.0" textLength="66.33" lengthAdjust="spacingAndGlyphs">-0.08</text>
<text x="41.29" y="599.00" font-size="31.0" textLength="66.19" lengthAdjust="spacingAndGlyphs">-0.04</text>
<text x="91.57" y="663.00" font-size="31.0" textLength="16.67" lengthAdjust="spacingAndGlyphs">0</text>
<text x="88.73" y="313.60" font-size="31.0" textLength="55.64" lengthAdjust="spacingAndGlyphs">0.25</text>
<text x="238.28" y="313.60" font-size="31.0" textLength="55.64" lengthAdjust="spacingAndGlyphs">0.15</text>
<text x="387.83" y="313.60" font-size="31.0" textLength="55.64" lengthAdjust="spacingAndGlyphs">0.05</text>
<text x="500.73" y="313.60" font-size="31.0" textLength="55.64" lengthAdjust="spacingAndGlyphs">0.25</text>
<text x="650.28" y="313.60" font-size="31.0" textLength="55.64" lengthAdjust="spacingAndGlyphs">0.15</text>
<text x="799.83" y="313.60" font-size="31.0" textLength="55.64" lengthAdjust="spacingAndGlyphs">0.05</text>
<text x="88.73" y="690.50" font-size="31.0" textLength="55.64" lengthAdjust="spacingAndGlyphs">0.25</text>
<text x="248.73" y="690.50" font-size="31.0" textLength="55.64" lengthAdjust="spacingAndGlyphs">0.15</text>
<text x="408.73" y="690.50" font-size="31.0" textLength="55.64" lengthAdjust="spacingAndGlyphs">0.05</text>
<text x="500.73" y="690.50" font-size="31.0" textLength="55.64" lengthAdjust="spacingAndGlyphs">0.25</text>
<text x="660.73" y="690.50" font-size="31.0" textLength="55.64" lengthAdjust="spacingAndGlyphs">0.15</text>
<text x="820.73" y="690.50" font-size="31.0" textLength="55.64" lengthAdjust="spacingAndGlyphs">0.05</text>
<text x="218.01" y="354.60" font-size="34.0" textLength="73.65" lengthAdjust="spacingAndGlyphs">Span</text>
<text x="305.49" y="357.40" font-size="40.7" textLength="7.80" lengthAdjust="spacingAndGlyphs">[</text>
<text x="313.17" y="354.60" font-size="34.0" textLength="28.49" lengthAdjust="spacingAndGlyphs">m</text>
<text x="341.32" y="357.40" font-size="40.7" textLength="7.40" lengthAdjust="spacingAndGlyphs">]</text>
<text x="630.01" y="354.60" font-size="34.0" textLength="73.65" lengthAdjust="spacingAndGlyphs">Span</text>
<text x="717.49" y="357.40" font-size="40.7" textLength="7.80" lengthAdjust="spacingAndGlyphs">[</text>
<text x="725.17" y="354.60" font-size="34.0" textLength="28.49" lengthAdjust="spacingAndGlyphs">m</text>
<text x="753.32" y="357.40" font-size="40.7" textLength="7.40" lengthAdjust="spacingAndGlyphs">]</text>
<text x="217.81" y="731.80" font-size="34.0" textLength="73.65" lengthAdjust="spacingAndGlyphs">Span</text>
<text x="305.29" y="734.60" font-size="40.7" textLength="7.80" lengthAdjust="spacingAndGlyphs">[</text>
<text x="312.97" y="731.80" font-size="34.0" textLength="28.49" lengthAdjust="spacingAndGlyphs">m</text>
<text x="341.12" y="734.60" font-size="40.7" textLength="7.40" lengthAdjust="spacingAndGlyphs">]</text>
<text x="629.61" y="731.80" font-size="34.0" textLength="73.65" lengthAdjust="spacingAndGlyphs">Span</text>
<text x="717.09" y="734.60" font-size="40.7" textLength="7.80" lengthAdjust="spacingAndGlyphs">[</text>
<text x="724.77" y="731.80" font-size="34.0" textLength="28.49" lengthAdjust="spacingAndGlyphs">m</text>
<text x="752.92" y="734.60" font-size="40.7" textLength="7.40" lengthAdjust="spacingAndGlyphs">]</text>
<g transform="translate(25.6,254.9) rotate(-90)">
<text x="-1.46" y="0.00" font-size="34.0" textLength="91.43" lengthAdjust="spacingAndGlyphs">Chord</text>
<text x="104.74" y="2.80" font-size="40.7" textLength="7.80" lengthAdjust="spacingAndGlyphs">[</text>
<text x="112.47" y="0.00" font-size="34.0" textLength="28.49" lengthAdjust="spacingAndGlyphs">m</text>
<text x="140.34" y="2.80" font-size="40.7" textLength="7.25" lengthAdjust="spacingAndGlyphs">]</text>
</g>
<g transform="translate(25.6,625.8) rotate(-90)">
<text x="-1.46" y="0.00" font-size="34.0" textLength="91.43" lengthAdjust="spacingAndGlyphs">Chord</text>
<text x="104.74" y="2.80" font-size="40.7" textLength="7.80" lengthAdjust="spacingAndGlyphs">[</text>
<text x="112.47" y="0.00" font-size="34.0" textLength="28.49" lengthAdjust="spacingAndGlyphs">m</text>
<text x="140.34" y="2.80" font-size="40.7" textLength="7.25" lengthAdjust="spacingAndGlyphs">]</text>
</g>
<text x="905.63" y="98.50" font-size="31.0" textLength="71.62" lengthAdjust="spacingAndGlyphs">0.002</text>
<text x="905.64" y="163.90" font-size="31.0" textLength="71.13" lengthAdjust="spacingAndGlyphs">0.000</text>
<text x="905.64" y="487.90" font-size="31.0" textLength="71.13" lengthAdjust="spacingAndGlyphs">0.000</text>
<text x="904.68" y="229.30" font-size="31.0" textLength="82.99" lengthAdjust="spacingAndGlyphs">-0.002</text>
<text x="904.68" y="575.70" font-size="31.0" textLength="82.33" lengthAdjust="spacingAndGlyphs">-0.005</text>
<text x="904.68" y="663.30" font-size="31.0" textLength="82.33" lengthAdjust="spacingAndGlyphs">-0.010</text>
<g transform="translate(1017.2,363.9) rotate(-90)">
<text x="-1.32" y="0.00" font-size="31.0" textLength="169.96" lengthAdjust="spacingAndGlyphs">Out-of-plane</text>
<text x="178.73" y="0.00" font-size="31.0" textLength="136.66" lengthAdjust="spacingAndGlyphs">Deflection</text>
<text x="326.60" y="1.91" font-size="37.7" textLength="7.57" lengthAdjust="spacingAndGlyphs">[</text>
<text x="333.12" y="0.00" font-size="31.0" textLength="26.28" lengthAdjust="spacingAndGlyphs">m</text>
<text x="358.58" y="1.91" font-size="37.7" textLength="6.81" lengthAdjust="spacingAndGlyphs">]</text>
</g>
<g transform="translate(1017.2,733.9) rotate(-90)">
<text x="-1.32" y="0.00" font-size="31.0" textLength="169.96" lengthAdjust="spacingAndGlyphs">Out-of-plane</text>
<text x="178.73" y="0.00" font-size="31.0" textLength="136.66" lengthAdjust="spacingAndGlyphs">Deflection</text>
<text x="326.60" y="1.91" font-size="37.7" textLength="7.57" lengthAdjust="spacingAndGlyphs">[</text>
<text x="333.12" y="0.00" font-size="31.0" textLength="26.28" lengthAdjust="spacingAndGlyphs">m</text>
<text x="358.58" y="1.91" font-size="37.7" textLength="6.81" lengthAdjust="spacingAndGlyphs">]</text>
</g>
</g>
</svg>
</body></html>
